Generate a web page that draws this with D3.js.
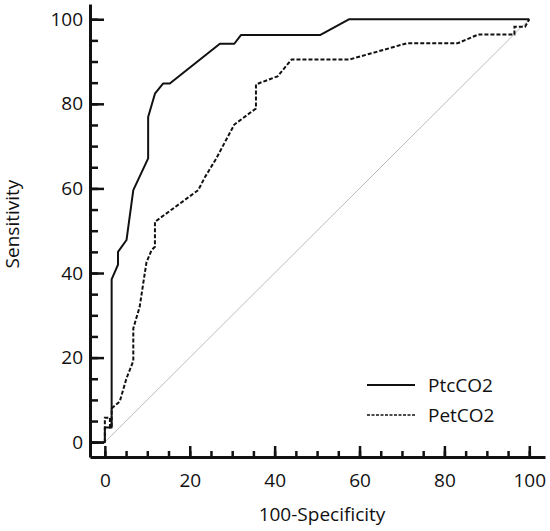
<!DOCTYPE html>
<html>
<head>
<meta charset="utf-8">
<script src="https://cdn.jsdelivr.net/npm/d3@7"></script>
<style>
  body { margin: 0; background: #fff; }
  svg text { font-family: "Open Sans", sans-serif; fill: #111; }
</style>
</head>
<body>
<div id="graphic"></div>
<script>
// ROC curves: [100-specificity, sensitivity]
var ptcco2 = [
  [-3.5, 0], [0, 0], [0, 3.5], [1.6, 3.5], [1.6, 38.5], [3.1, 42], [3.1, 45],
  [5.1, 47.8], [6.7, 59.6], [10.2, 67.1], [10.2, 76.9], [11.8, 82.4],
  [13.7, 84.8], [15.3, 84.8], [27.1, 94.2], [30.5, 94.2], [32.1, 96.3],
  [50.8, 96.3], [57.6, 100], [100, 100]
]
var petco2 = [
  [0, 0], [0, 5.8], [1.2, 5.8], [1.2, 3.5], [1.6, 3.5], [1.6, 8], [3.5, 9.6],
  [5.1, 15.1], [6.7, 19.2], [6.7, 26.9], [8.2, 32], [9.8, 42.5], [11, 45.4],
  [11.8, 46.2], [11.8, 52.1], [22, 59.6], [23.6, 62.7], [26.2, 67],
  [30.5, 75.1], [35.6, 78.9], [35.6, 84.6], [40.7, 86.5], [44, 90.5],
  [57.7, 90.5], [71.1, 94.3], [83.1, 94.3], [88, 96.4], [96.5, 96.4],
  [96.5, 98.2], [99, 98.2], [100, 100]
]
var reference = [[0, 0], [100, 100]]

var majorTicks = [0, 20, 40, 60, 80, 100]
var minorTicks = d3.range(0, 101, 5)

var legendItems = [
  {name: 'PtcCO2', dash: null},
  {name: 'PetCO2', dash: '3,1.5'}
]

var width = 550
var height = 531

var svg = d3.select('#graphic')
  .html('')
  .append('svg')
  .attr('width', width)
  .attr('height', height)

var x = d3.scaleLinear().domain([-3.5, 103.7]).range([90, 545])
var y = d3.scaleLinear().domain([-3.5, 103.6]).range([457, 4])

var line = d3.line().x(d => x(d[0])).y(d => y(d[1]))

// chance line
svg.append('path')
  .attr('d', line(reference))
  .attr('fill', 'none')
  .attr('stroke', '#bdbdbd')
  .attr('stroke-width', 1)

svg.append('path')
  .attr('d', line(petco2))
  .attr('fill', 'none')
  .attr('stroke', '#111')
  .attr('stroke-width', 2)
  .attr('stroke-dasharray', '4,2')

svg.append('path')
  .attr('d', line(ptcco2))
  .attr('fill', 'none')
  .attr('stroke', '#111')
  .attr('stroke-width', 2)
  .attr('stroke-linejoin', 'round')

// axes: minor ticks first, then major ticks with labels
function styleAxis(g) {
  g.selectAll('path.domain').attr('stroke', '#111').attr('stroke-width', 3)
  g.selectAll('line').attr('stroke', '#111').attr('stroke-width', 2.5)
  g.selectAll('text').attr('font-size', 19).attr('fill', '#111')
    .attr('font-family', '"Open Sans", sans-serif')
}

svg.append('g')
  .attr('transform', `translate(0,${y.range()[0]})`)
  .call(d3.axisBottom(x).tickValues(minorTicks).tickSize(-6).tickFormat(''))
  .call(g => g.select('.domain').remove())
  .call(styleAxis)

svg.append('g')
  .attr('transform', `translate(0,${y.range()[0]})`)
  .call(d3.axisBottom(x).tickValues(majorTicks).tickSizeInner(-11).tickSizeOuter(0).tickPadding(17))
  .call(styleAxis)

svg.append('g')
  .attr('transform', `translate(${x.range()[0]},0)`)
  .call(d3.axisLeft(y).tickValues(minorTicks).tickSize(-8).tickFormat(''))
  .call(g => g.select('.domain').remove())
  .call(styleAxis)

svg.append('g')
  .attr('transform', `translate(${x.range()[0]},0)`)
  .call(d3.axisLeft(y).tickValues(majorTicks).tickSizeInner(-14).tickSizeOuter(0).tickPadding(7))
  .call(styleAxis)

// axis titles
svg.append('text')
  .text('100-Specificity')
  .attr('x', 322)
  .attr('y', 521)
  .attr('text-anchor', 'middle')
  .attr('font-size', 19)

svg.append('text')
  .text('Sensitivity')
  .attr('transform', 'translate(19,224) rotate(-90)')
  .attr('text-anchor', 'middle')
  .attr('font-size', 19)

// legend
var legend = svg.selectAll('g.legend')
  .data(legendItems)
  .join('g')
  .attr('class', 'legend')
  .attr('transform', (d, i) => `translate(367,${385 + i * 30})`)

legend.append('line')
  .attr('x1', 0).attr('x2', 48)
  .attr('stroke', '#111')
  .attr('stroke-width', d => d.dash ? 1.5 : 2)
  .attr('stroke-dasharray', d => d.dash)

legend.append('text')
  .text(d => d.name)
  .attr('x', 61)
  .attr('dy', '0.36em')
  .attr('font-size', 19)
</script>
</body>
</html>
